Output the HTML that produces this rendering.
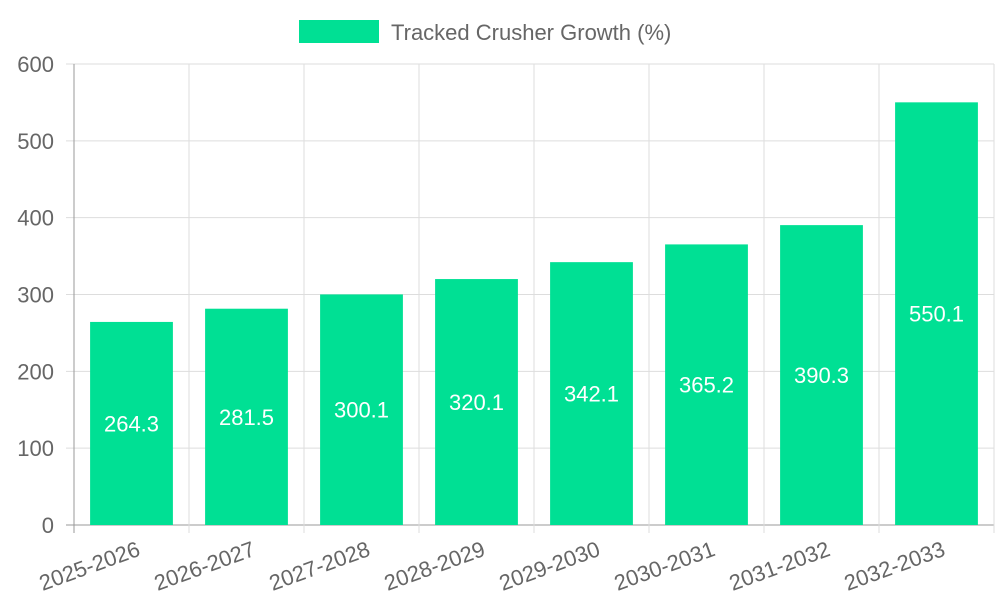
<!DOCTYPE html>
<html><head><meta charset="utf-8"><style>
body{margin:0;background:#fff;}
svg{display:block;font-family:"Liberation Sans",sans-serif;}
</style></head><body>
<svg id="chart" width="1000" height="600" viewBox="0 0 1000 600" xmlns="http://www.w3.org/2000/svg">
<g id="legend">
<rect x="299" y="20" width="80" height="23" fill="#00e094"/>
<text x="391" y="40" font-size="22" fill="#666">Tracked Crusher Growth (%)</text>
</g>
<g id="grid"></g>
<g id="bars"></g>
<g id="axes"></g>
</svg>
<script>
const categories=["2025-2026","2026-2027","2027-2028","2028-2029","2029-2030","2030-2031","2031-2032","2032-2033"];
const values=[264.3,281.5,300.1,320.1,342.1,365.2,390.3,550.1];
const yTicks=[0,100,200,300,400,500,600];
const NS="http://www.w3.org/2000/svg";
const L=74,R=994,T=64,B=525,yMax=600;
const bw=(R-L)/categories.length;
const y=v=>B-(v/yMax)*(B-T);
const x=i=>L+i*bw;
function mk(tag,attrs,parent){const e=document.createElementNS(NS,tag);for(const k in attrs)e.setAttribute(k,attrs[k]);parent.appendChild(e);return e;}
const grid=document.getElementById('grid'),bars=document.getElementById('bars'),axes=document.getElementById('axes');
yTicks.forEach(t=>{
 const ln=mk('line',{x1:L-8,x2:R,y1:y(t),y2:y(t),stroke:t===0?'#999':'#ddd','stroke-width':1},grid);
 
 
 const tx=mk('text',{x:L-20,y:y(t)+8,'font-size':22,fill:'#666','text-anchor':'end'},axes);
 tx.textContent=t;
 
 
});
for(let i=0;i<=categories.length;i++){
 const ln=mk('line',{x1:x(i),x2:x(i),y1:T,y2:B+8,stroke:i===0?'#999':'#ddd','stroke-width':1},grid);
 
 
}
categories.forEach((c,i)=>{
 const cx=x(i)+bw/2,w=bw*0.72,top=y(values[i]);
 const r=mk('rect',{x:cx-w/2,y:top,width:w,height:B-top,fill:'#00e094'},bars);
 
 
 const vt=mk('text',{x:cx,y:(top+B)/2+8,'font-size':22,fill:'#fff','text-anchor':'middle'},bars);
 vt.textContent=values[i].toFixed(1);
 
 
 const xt=mk('text',{x:cx+10,y:B+30,'font-size':22,fill:'#666','text-anchor':'end',transform:`rotate(-20 ${cx+10} ${B+30})`},axes);
 xt.textContent=c;
 
 
});
</script>
</body></html>
